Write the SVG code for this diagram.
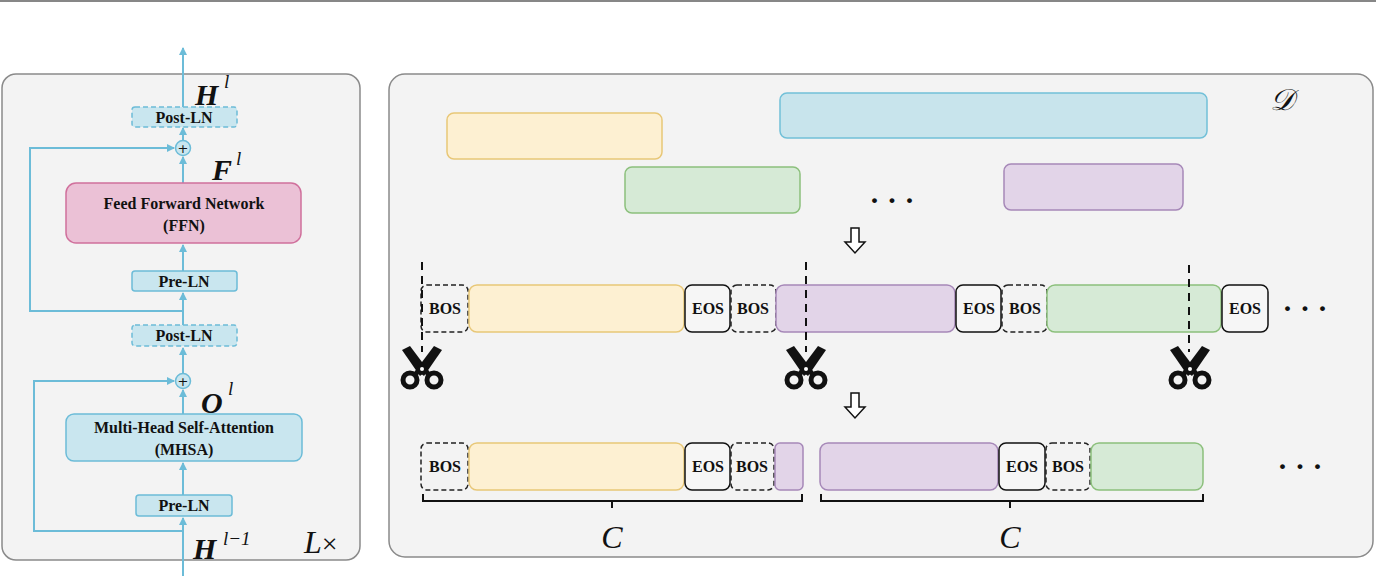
<svg xmlns="http://www.w3.org/2000/svg" width="1376" height="576" viewBox="0 0 1376 576">
<style>
.panel{fill:#f3f3f3;stroke:#8a8a8a;stroke-width:1.5}
.ln{fill:#c9e6ef;stroke:#6cbcd8;stroke-width:1.5}
.lnd{fill:#c9e6ef;stroke:#6cbcd8;stroke-width:1.5;stroke-dasharray:5 3}
.wire{fill:none;stroke:#6cbcd8;stroke-width:2}
.lbl{font-family:"Liberation Serif",serif;font-weight:bold;font-size:16px;text-anchor:middle;fill:#111}
.tok{font-family:"Liberation Serif",serif;font-weight:bold;font-size:16px;text-anchor:middle;fill:#111}
.math{font-family:"Liberation Serif",serif;font-style:italic;font-weight:bold;font-size:30px;fill:#111}
.mathl{font-family:"Liberation Serif",serif;font-style:italic;font-size:32px;fill:#111}
.sup{font-family:"Liberation Serif",serif;font-style:italic;font-size:19px;fill:#111}
.bos{fill:none;stroke:#222;stroke-width:1.5;stroke-dasharray:5 3}
.eos{fill:#f6f6f6;stroke:#111;stroke-width:1.5}
.y{fill:#fdf0d2;stroke:#e8c777;stroke-width:1.5}
.b{fill:#c8e4ec;stroke:#72c0d8;stroke-width:1.5}
.g{fill:#d6ead6;stroke:#8cc07c;stroke-width:1.5}
.p{fill:#e2d4e8;stroke:#a688b8;stroke-width:1.5}
.cut{stroke:#111;stroke-width:2;stroke-dasharray:8 6}
.dots{font-family:"Liberation Serif",serif;font-weight:bold;font-size:30px;fill:#111;text-anchor:middle}
.brace{fill:none;stroke:#111;stroke-width:2}
</style>
<defs>
<marker id="ah" markerWidth="8" markerHeight="8" refX="7" refY="4" orient="auto" markerUnits="userSpaceOnUse"><path d="M0,0 L8,4 L0,8 Z" fill="#6cbcd8"/></marker>
<symbol id="sc" viewBox="-22 -22 44 44" overflow="visible">
<path d="M-20,-18 L-12,-22 L6,2 L-2,8 Z" fill="#111"/>
<path d="M20,-18 L12,-22 L-6,2 L2,8 Z" fill="#111"/>
<circle cx="-12" cy="12" r="7" fill="none" stroke="#111" stroke-width="5"/>
<circle cx="12" cy="12" r="7" fill="none" stroke="#111" stroke-width="5"/>
<path d="M-7,7 L0,-2 L7,7" fill="none" stroke="#111" stroke-width="5"/>
<circle cx="0" cy="1" r="2" fill="#fff"/>
</symbol>
<g id="harrow"><path d="M-4,0 h8 v14 h6 l-10,11 l-10,-11 h6 Z" fill="#fff" stroke="#111" stroke-width="1.5"/></g>
</defs>
<line x1="0" y1="1" x2="1376" y2="1" stroke="#111" stroke-width="1.2"/>

<g id="left-panel"><rect class="panel" x="2" y="74" width="358" height="486" rx="14"/></g>
<g id="connectors-left">
<line class="wire" x1="183" y1="576" x2="183" y2="518" marker-end="url(#ah)"/>
<line class="wire" x1="183" y1="495" x2="183" y2="463" marker-end="url(#ah)"/>
<line class="wire" x1="183" y1="414" x2="183" y2="390" marker-end="url(#ah)"/>
<line class="wire" x1="183" y1="374" x2="183" y2="348" marker-end="url(#ah)"/>
<line class="wire" x1="183" y1="325" x2="183" y2="293" marker-end="url(#ah)"/>
<line class="wire" x1="183" y1="271" x2="183" y2="245" marker-end="url(#ah)"/>
<line class="wire" x1="183" y1="183" x2="183" y2="157" marker-end="url(#ah)"/>
<line class="wire" x1="183" y1="141" x2="183" y2="128" marker-end="url(#ah)"/>
<line class="wire" x1="183" y1="107" x2="183" y2="48" marker-end="url(#ah)"/>
<polyline class="wire" points="183,531 34,531 34,381 174,381" marker-end="url(#ah)"/>
<polyline class="wire" points="183,311 30,311 30,148 174,148" marker-end="url(#ah)"/>
</g>
<g id="postln-top"><rect class="lnd" x="132" y="107" width="105" height="20" rx="3"/><text class="lbl" x="184" y="123">Post-LN</text></g>
<g id="plus-top"><circle cx="183" cy="148" r="7.5" fill="#c9e6ef" stroke="#6cbcd8" stroke-width="1.5"/><text x="183" y="153" font-family="DejaVu Sans,sans-serif" font-size="13" text-anchor="middle" fill="#111">+</text></g>
<g id="ffn"><rect x="66" y="183" width="235" height="60" rx="10" fill="#ebc1d6" stroke="#d0709c" stroke-width="1.5"/><text class="lbl" x="184" y="209">Feed Forward Network</text><text class="lbl" x="184" y="231">(FFN)</text></g>
<g id="preln-top"><rect class="ln" x="132" y="271" width="105" height="20" rx="3"/><text class="lbl" x="184" y="287">Pre-LN</text></g>
<g id="postln-mid"><rect class="lnd" x="132" y="325" width="105" height="21" rx="3"/><text class="lbl" x="184" y="341">Post-LN</text></g>
<g id="plus-mid"><circle cx="183" cy="381" r="7.5" fill="#c9e6ef" stroke="#6cbcd8" stroke-width="1.5"/><text x="183" y="386" font-family="DejaVu Sans,sans-serif" font-size="13" text-anchor="middle" fill="#111">+</text></g>
<g id="mhsa"><rect x="66" y="414" width="236" height="47" rx="8" class="ln"/><text class="lbl" x="184" y="433">Multi-Head Self-Attention</text><text class="lbl" x="184" y="455">(MHSA)</text></g>
<g id="preln-bot"><rect class="ln" x="136" y="495" width="96" height="21" rx="3"/><text class="lbl" x="184" y="511">Pre-LN</text></g>
<g id="math-left">
<text class="math" x="195" y="105">H</text><text class="sup" x="224" y="88">l</text>
<text class="math" x="212" y="180">F</text><text class="sup" x="236" y="165">l</text>
<text class="math" x="201" y="413">O</text><text class="sup" x="228" y="395">l</text>
<text class="math" x="193" y="559">H</text><text class="sup" x="223" y="545">l−1</text>
<text class="mathl" x="304" y="553">L<tspan font-style="normal" font-size="28">×</tspan></text>
</g>

<g id="right-panel"><rect class="panel" x="389" y="74" width="984" height="483" rx="16"/>
<text x="1282" y="110" font-family="DejaVu Serif,serif" font-style="italic" font-size="30" text-anchor="middle" fill="#111">𝒟</text></g>
<g id="docs">
<rect class="y" x="447" y="113" width="215" height="46" rx="7"/>
<rect class="b" x="780" y="93" width="427" height="45" rx="7"/>
<rect class="g" x="625" y="167" width="175" height="46" rx="7"/>
<rect class="p" x="1004" y="164" width="179" height="46" rx="7"/>
<text class="dots" x="892" y="210">· · ·</text>
</g>
<use href="#harrow" x="855" y="228"/>
<use href="#harrow" x="855" y="393"/>
<g id="row1">
<rect class="bos" x="421" y="285" width="47" height="47" rx="6"/><text class="tok" x="445" y="314">BOS</text>
<rect class="y" x="469" y="285" width="215" height="47" rx="8"/>
<rect class="eos" x="685" y="285" width="45" height="47" rx="7"/><text class="tok" x="708" y="314">EOS</text>
<rect class="bos" x="731" y="285" width="45" height="47" rx="6"/><text class="tok" x="753" y="314">BOS</text>
<rect class="p" x="776" y="285" width="179" height="47" rx="8"/>
<rect class="eos" x="956" y="285" width="45" height="47" rx="7"/><text class="tok" x="979" y="314">EOS</text>
<rect class="bos" x="1002" y="285" width="45" height="47" rx="6"/><text class="tok" x="1025" y="314">BOS</text>
<rect class="g" x="1047" y="285" width="174" height="47" rx="8"/>
<rect class="eos" x="1222" y="285" width="46" height="47" rx="7"/><text class="tok" x="1245" y="314">EOS</text>
<text class="dots" x="1305" y="318">· · ·</text>
</g>
<g id="cuts">
<line class="cut" x1="422" y1="262" x2="422" y2="352"/>
<line class="cut" x1="806" y1="262" x2="806" y2="352"/>
<line class="cut" x1="1189" y1="265" x2="1189" y2="352"/>
<use href="#sc" x="400" y="346" width="44" height="44"/>
<use href="#sc" x="784" y="346" width="44" height="44"/>
<use href="#sc" x="1168" y="346" width="44" height="44"/>
</g>
<g id="row2">
<rect class="bos" x="421" y="443" width="47" height="47" rx="6"/><text class="tok" x="445" y="472">BOS</text>
<rect class="y" x="469" y="443" width="215" height="47" rx="8"/>
<rect class="eos" x="685" y="443" width="45" height="47" rx="7"/><text class="tok" x="708" y="472">EOS</text>
<rect class="bos" x="731" y="443" width="43" height="47" rx="6"/><text class="tok" x="752" y="472">BOS</text>
<rect class="p" x="775" y="443" width="28" height="47" rx="5"/>
<rect class="p" x="820" y="443" width="178" height="47" rx="8"/>
<rect class="eos" x="999" y="443" width="46" height="47" rx="7"/><text class="tok" x="1022" y="472">EOS</text>
<rect class="bos" x="1046" y="443" width="44" height="47" rx="6"/><text class="tok" x="1068" y="472">BOS</text>
<rect class="g" x="1091" y="443" width="112" height="47" rx="8"/>
<text class="dots" x="1300" y="476">· · ·</text>
</g>
<g id="braces">
<path class="brace" d="M423,494 v7 H802 v-7 M612,501 v7"/>
<path class="brace" d="M821,494 v7 H1203 v-7 M1010,501 v7"/>
<text class="mathl" x="612" y="548" text-anchor="middle">C</text>
<text class="mathl" x="1010" y="548" text-anchor="middle">C</text>
</g>
</svg>
